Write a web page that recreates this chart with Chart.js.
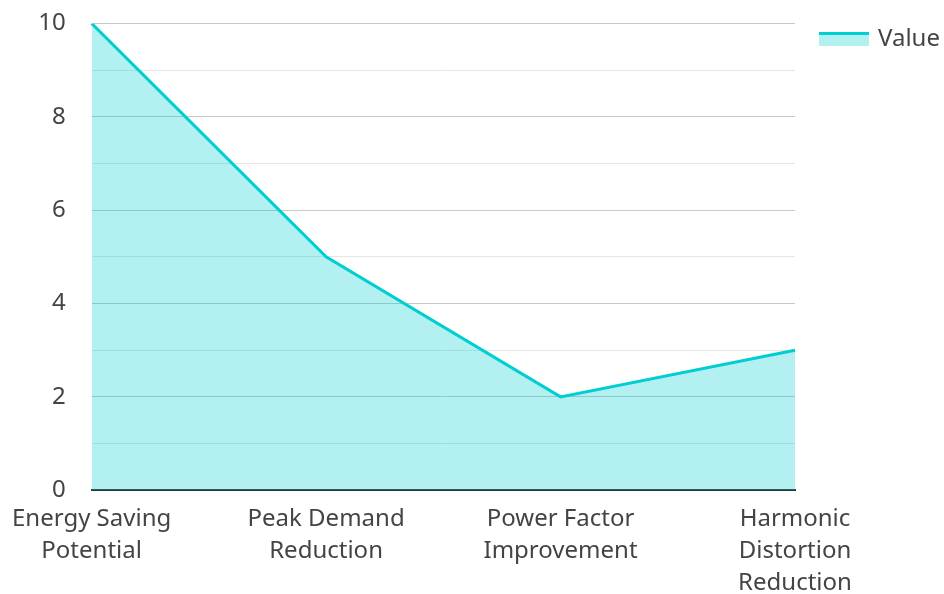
<!DOCTYPE html>
<html>
<head>
<meta charset="utf-8">
<script src="https://cdn.jsdelivr.net/npm/chart.js@4"></script>
<style>
  html, body { margin: 0; padding: 0; background: #fff; }
  #wrap { width: 944px; height: 594px; }
</style>
</head>
<body>
<div id="wrap"><canvas id="chart"></canvas></div>
<script>
const categories = [
  ["Energy Saving", "Potential"],
  ["Peak Demand", "Reduction"],
  ["Power Factor", "Improvement"],
  ["Harmonic", "Distortion", "Reduction"],
];
const values = [10, 5, 2, 3];
const seriesName = "Value";
const yMin = 0;
const yMax = 10;

const lineColor = "#00ced1";
const fillColor = "rgba(0,206,209,0.3)";
const textColor = "#444";

// legend swatch: thick line on top of a filled band
function makeSwatch() {
  const c = document.createElement("canvas");
  c.width = 50;
  c.height = 14;
  const g = c.getContext("2d");
  g.fillStyle = fillColor;
  g.fillRect(0, 0, 50, 14);
  g.fillStyle = lineColor;
  g.fillRect(0, 0, 50, 3);
  return c;
}
const swatch = makeSwatch();

Chart.defaults.font.family = "'Noto Sans', sans-serif";
Chart.defaults.font.size = 24;
Chart.defaults.color = textColor;

new Chart(document.getElementById("chart"), {
  type: "line",
  data: {
    labels: categories,
    datasets: [{
      label: seriesName,
      data: values,
      borderColor: lineColor,
      backgroundColor: fillColor,
      borderWidth: 3,
      fill: "origin",
      tension: 0,
      pointRadius: 0,
    }],
  },
  options: {
    responsive: true,
    maintainAspectRatio: false,
    animation: false,
    layout: { padding: { top: 0, right: 0, bottom: -17, left: 18 } },
    plugins: {
      tooltip: { enabled: false },
      legend: {
        position: "right",
        align: "start",
        maxWidth: 149,
        labels: {
          usePointStyle: true,
          pointStyleWidth: 44,
          padding: 27,
          font: { size: 24 },
          color: textColor,
          generateLabels: (chart) => chart.data.datasets.map((ds, i) => ({
            text: ds.label,
            pointStyle: swatch,
            fillStyle: fillColor,
            strokeStyle: lineColor,
            lineWidth: 0,
            datasetIndex: i,
            fontColor: textColor,
          })),
        },
      },
    },
    scales: {
      x: {
        offset: false,
        grid: { display: false, tickLength: 1 },
        border: { display: true, color: "#333", width: 2 },
        ticks: { color: textColor, maxRotation: 0, autoSkip: false, padding: 12, font: { size: 24, lineHeight: 1.33 } },
      },
      y: {
        min: yMin,
        max: yMax,
        border: { display: false },
        grid: {
          drawTicks: true,
          tickLength: 17,
          tickColor: "rgba(0,0,0,0)",
          color: (ctx) => (ctx.tick && ctx.tick.value % 2 === 0 ? "#c8c8c8" : "#e6e6e6"),
          lineWidth: 1,
        },
        ticks: {
          stepSize: 1,
          autoSkip: false,
          padding: 9,
          color: textColor,
          font: { size: 24 },
          callback: (v) => (v % 2 === 0 ? v : ""),
        },
      },
    },
  },
});
</script>
</body>
</html>
